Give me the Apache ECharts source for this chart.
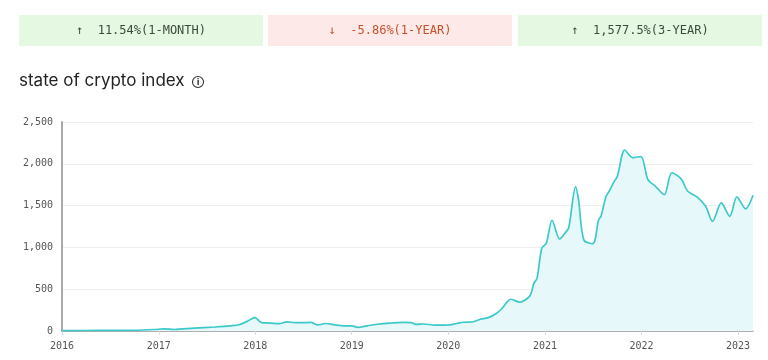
<!DOCTYPE html>
<html>
<head>
<meta charset="utf-8">
<script src="https://cdn.jsdelivr.net/npm/echarts@6/dist/echarts.min.js"></script>
<style>
html,body{margin:0;padding:0;background:#fff;}
#chart{width:768px;height:360px;}
</style>
</head>
<body>
<div id="chart"></div>
<script>
// ---- data ----
var dates = [
'2016-01-01','2016-04-01','2016-07-01','2016-10-01','2016-12-15','2017-01-20','2017-03-01','2017-05-15','2017-08-01','2017-10-01',
'2017-11-01','2017-12-01','2017-12-31','2018-01-25','2018-03-01','2018-04-01','2018-05-01','2018-06-01','2018-07-01','2018-08-01',
'2018-08-25','2018-09-25','2018-11-01','2018-12-01','2019-01-01','2019-01-25','2019-03-01','2019-04-15','2019-06-01','2019-07-15',
'2019-08-15','2019-09-01','2019-10-01','2019-11-01','2019-12-01','2020-01-01','2020-02-01','2020-03-01','2020-04-01','2020-05-01',
'2020-06-01','2020-07-01','2020-07-20','2020-08-25','2020-09-27','2020-11-05','2020-11-20','2020-12-02','2020-12-20','2021-01-06',
'2021-01-28','2021-02-26','2021-03-20','2021-04-01','2021-04-27','2021-05-08','2021-05-28','2021-07-01','2021-07-23','2021-08-01',
'2021-08-20','2021-09-01','2021-09-20','2021-10-02','2021-10-30','2021-11-28','2021-12-30','2022-01-25','2022-02-25','2022-03-28',
'2022-04-26','2022-05-31','2022-06-25','2022-07-30','2022-09-01','2022-09-27','2022-10-30','2022-12-01','2022-12-28','2023-01-30',
'2023-02-27'
];
var values = [
5,6,7,9,18,25,18,35,48,62,
75,115,160,100,95,88,110,100,100,102,
72,90,72,62,62,44,62,84,96,104,
100,80,84,72,70,72,90,105,108,140,
160,210,260,380,345,420,570,630,990,1050,
1325,1100,1180,1235,1725,1570,1090,1045,1330,1372,
1610,1672,1790,1852,2165,2075,2085,1815,1725,1630,
1893,1820,1672,1605,1492,1312,1533,1372,1605,1461,
1624
];
var yTicks = [0, 500, 1000, 1500, 2000, 2500];
var stats = [
  {text: '↑  11.54%(1-MONTH)', up: true},
  {text: '↓  -5.86%(1-YEAR)', up: false},
  {text: '↑  1,577.5%(3-YEAR)', up: true}
];
var title = 'state of crypto index';

// ---- chart ----
var chart = echarts.init(document.getElementById('chart'), null, {renderer: 'canvas'});
var seriesData = dates.map(function (d, i) { return [d, values[i]]; });
var mono = '"DejaVu Sans Mono", "Liberation Mono", monospace';

var graphics = [];
var boxX = [19, 268, 518], boxW = 244;
stats.forEach(function (s, i) {
  graphics.push({
    type: 'rect', left: boxX[i], top: 15,
    shape: {width: boxW, height: 31},
    style: {fill: s.up ? '#e4f8e2' : '#fde9e8'}
  });
  graphics.push({
    type: 'text', x: boxX[i] + boxW / 2, y: 31,
    style: {text: s.text, fill: s.up ? '#3b4a3c' : '#c9502f', font: '12px ' + mono,
      textAlign: 'center', textVerticalAlign: 'middle'}
  });
});
graphics.push({
  type: 'text', x: 19, y: 81,
  style: {text: title, fill: '#222', font: '17px Inter, "Liberation Sans", Arial, sans-serif',
    textAlign: 'left', textVerticalAlign: 'middle'}
});
graphics.push({
  type: 'circle', shape: {cx: 198, cy: 82, r: 5.5},
  style: {fill: 'none', stroke: '#333', lineWidth: 1.1}
});
graphics.push({
  type: 'text', x: 198, y: 82.5,
  style: {text: 'i', fill: '#333', font: 'bold 8px "DejaVu Sans", sans-serif',
    textAlign: 'center', textVerticalAlign: 'middle'}
});

chart.setOption({
  animation: false,
  backgroundColor: '#fff',
  graphic: graphics,
  grid: {left: 62, right: 15, top: 122, bottom: 29, containLabel: false},
  xAxis: {
    type: 'time',
    min: '2016-01-01',
    max: '2023-02-27',
    minInterval: 365 * 86400000,
    maxInterval: 366 * 86400000,
    axisLine: {show: true, lineStyle: {color: '#9a9a9a', width: 1.5}},
    axisTick: {show: true, length: 4, lineStyle: {color: '#ddd'}},
    axisLabel: {color: '#555', fontFamily: mono, fontSize: 10, margin: 10,
      formatter: '{yyyy}', showMinLabel: true},
    splitLine: {show: false}
  },
  yAxis: {
    type: 'value',
    min: yTicks[0], max: yTicks[yTicks.length - 1], interval: 500,
    axisLine: {show: true, lineStyle: {color: '#aaa', width: 2}},
    axisTick: {show: false},
    axisLabel: {color: '#555', fontFamily: mono, fontSize: 10, margin: 9,
      formatter: function (v) { return v.toLocaleString('en-US'); }},
    splitLine: {lineStyle: {color: '#eeeeee'}}
  },
  series: [{
    type: 'line',
    data: seriesData,
    smooth: 0.3,
    showSymbol: false,
    lineStyle: {color: '#3cc9c9', width: 1.7},
    areaStyle: {color: '#e6f8f9', opacity: 1}
  }]
});
</script>
</body>
</html>
